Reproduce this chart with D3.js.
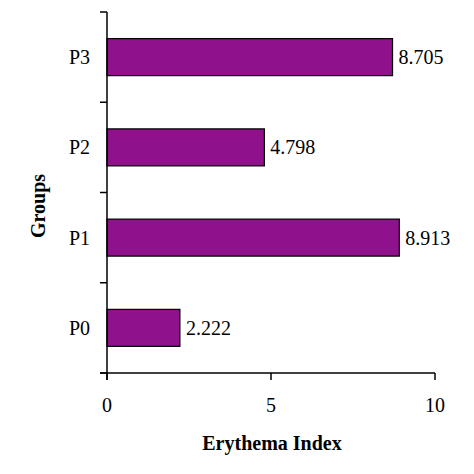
<!DOCTYPE html>
<html>
<head>
<meta charset="utf-8">
<script src="https://cdn.jsdelivr.net/npm/d3@7"></script>
<style>
  body { margin: 0; background: #fff; }
  text { font-family: 'Liberation Serif', 'Times New Roman', serif; fill: #000; }
</style>
</head>
<body>
<div id="chart"></div>
<script>
'use strict';

var groups = ['P0', 'P1', 'P2', 'P3'];
var values = [2.222, 8.913, 4.798, 8.705];
var xTicks = [0, 5, 10];

var w = 474, h = 474;
var margin = { left: 107, top: 12, right: 39, bottom: 101 };

var svg = d3.select('#chart').append('svg')
  .attr('width', w)
  .attr('height', h);

var x = d3.scaleLinear()
  .domain([0, 10])
  .range([margin.left, w - margin.right]);

var y = d3.scaleBand()
  .domain(groups.slice().reverse())
  .range([margin.top, h - margin.bottom])
  .paddingInner(0.59)
  .paddingOuter(0.295);

var y0 = h - margin.bottom;

/* Bars */

svg.selectAll('rect.bar')
  .data(values)
  .enter()
  .append('rect')
  .attr('class', 'bar')
  .attr('x', x(0))
  .attr('y', function (d, i) { return y(groups[i]); })
  .attr('width', function (d) { return x(d) - x(0); })
  .attr('height', y.bandwidth())
  .style('fill', '#8f118c')
  .style('stroke', '#000')
  .style('stroke-width', 1.2);

/* Value labels */

svg.selectAll('text.val')
  .data(values)
  .enter()
  .append('text')
  .attr('class', 'val')
  .text(function (d) { return d.toFixed(3); })
  .attr('x', function (d) { return x(d) + 6; })
  .attr('y', function (d, i) { return y(groups[i]) + y.bandwidth() / 2 + 7; })
  .attr('font-size', '20px');

/* Y axis: ticks between categories */

var step = (y0 - margin.top) / groups.length;
var yTickPos = d3.range(groups.length + 1).map(function (i) { return margin.top + i * step; });

svg.append('line')
  .attr('x1', x(0)).attr('x2', x(0))
  .attr('y1', margin.top).attr('y2', y0 + 7)
  .style('stroke', '#000').style('stroke-width', 1.5);

svg.selectAll('line.ytick')
  .data(yTickPos)
  .enter()
  .append('line')
  .attr('class', 'ytick')
  .attr('x1', x(0) - 7).attr('x2', x(0))
  .attr('y1', function (d) { return d; })
  .attr('y2', function (d) { return d; })
  .style('stroke', '#000').style('stroke-width', 1.5);

svg.selectAll('text.cat')
  .data(groups)
  .enter()
  .append('text')
  .attr('class', 'cat')
  .text(function (d) { return d; })
  .attr('x', 90)
  .attr('y', function (d) { return y(d) + y.bandwidth() / 2 + 7; })
  .attr('text-anchor', 'end')
  .attr('font-size', '20px');

/* X axis */

svg.append('line')
  .attr('x1', x(0) - 7).attr('x2', x(10))
  .attr('y1', y0).attr('y2', y0)
  .style('stroke', '#000').style('stroke-width', 1.5);

svg.selectAll('line.xtick')
  .data(xTicks)
  .enter()
  .append('line')
  .attr('class', 'xtick')
  .attr('x1', function (d) { return x(d); })
  .attr('x2', function (d) { return x(d); })
  .attr('y1', y0).attr('y2', y0 + 7)
  .style('stroke', '#000').style('stroke-width', 1.5);

svg.selectAll('text.xlab')
  .data(xTicks)
  .enter()
  .append('text')
  .attr('class', 'xlab')
  .text(function (d) { return d; })
  .attr('x', function (d) { return x(d); })
  .attr('y', 412)
  .attr('text-anchor', 'middle')
  .attr('font-size', '20px');

/* Axis titles */

svg.append('text')
  .text('Erythema Index')
  .attr('x', 272)
  .attr('y', 450)
  .attr('text-anchor', 'middle')
  .attr('font-weight', 'bold')
  .attr('font-size', '20px');

svg.append('text')
  .text('Groups')
  .attr('transform', 'translate(45,206) rotate(-90)')
  .attr('text-anchor', 'middle')
  .attr('font-weight', 'bold')
  .attr('font-size', '20px');
</script>
</body>
</html>
